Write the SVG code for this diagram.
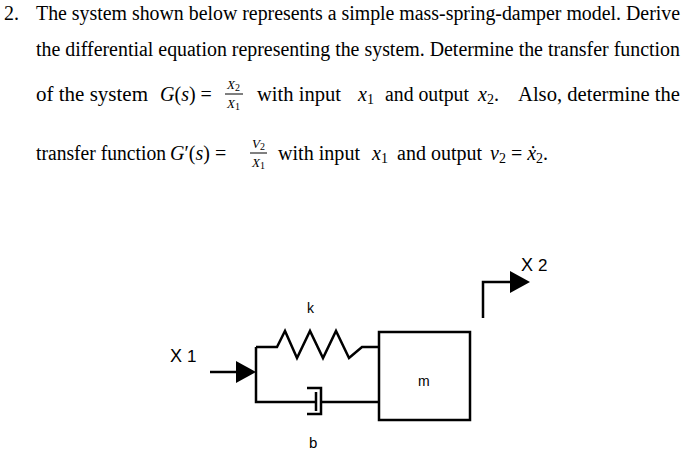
<svg xmlns="http://www.w3.org/2000/svg" width="684" height="454" viewBox="0 0 684 454">
<style>
.t{font-family:"Liberation Serif",serif;font-size:20px;fill:#000}
.i{font-style:italic}
.sb{font-size:14px;font-style:normal}
.f{font-family:"Liberation Serif",serif;font-size:13px;font-style:italic}
.d{font-family:"Liberation Sans",sans-serif;fill:#000}
.ln{fill:none;stroke:#000;stroke-width:2.5}
</style>
<rect width="684" height="454" fill="#fff"/>
<g id="text">
<text class="t" x="4" y="20">2.</text>
<text class="t" x="36" y="20" textLength="644" lengthAdjust="spacingAndGlyphs">The system shown below represents a simple mass-spring-damper model. Derive</text>
<text class="t" x="36" y="56" textLength="644" lengthAdjust="spacingAndGlyphs">the differential equation representing the system. Determine the transfer function</text>
<text class="t" x="36" y="101" textLength="112" lengthAdjust="spacingAndGlyphs">of the system</text>
<text class="t" x="160" y="101"><tspan class="i">G</tspan>(<tspan class="i">s</tspan>) =</text>
<text class="f" x="227" y="89">X<tspan font-size="10" font-style="normal" dy="2">2</tspan></text>
<line x1="225" y1="94" x2="243" y2="94" stroke="#000" stroke-width="1"/>
<text class="f" x="227" y="108">X<tspan font-size="10" font-style="normal" dy="2">1</tspan></text>
<text class="t" x="257" y="101" textLength="84" lengthAdjust="spacingAndGlyphs">with input</text>
<text class="t" x="358" y="101"><tspan class="i">x</tspan><tspan class="sb" dy="3">1</tspan></text>
<text class="t" x="385" y="101" textLength="84" lengthAdjust="spacingAndGlyphs">and output</text>
<text class="t" x="478" y="101"><tspan class="i">x</tspan><tspan class="sb" dy="3">2</tspan><tspan dy="-3">.</tspan></text>
<text class="t" x="518" y="101" textLength="162" lengthAdjust="spacingAndGlyphs">Also, determine the</text>
<text class="t" x="36" y="160" textLength="130" lengthAdjust="spacingAndGlyphs">transfer function</text>
<text class="t" x="170" y="160"><tspan class="i">G</tspan>′(<tspan class="i">s</tspan>) =</text>
<text class="f" x="252" y="148">V<tspan font-size="10" font-style="normal" dy="2">2</tspan></text>
<line x1="250" y1="153" x2="267" y2="153" stroke="#000" stroke-width="1"/>
<text class="f" x="252" y="167">X<tspan font-size="10" font-style="normal" dy="2">1</tspan></text>
<text class="t" x="278" y="160" textLength="82" lengthAdjust="spacingAndGlyphs">with input</text>
<text class="t" x="372" y="160"><tspan class="i">x</tspan><tspan class="sb" dy="3">1</tspan></text>
<text class="t" x="397" y="160" textLength="85" lengthAdjust="spacingAndGlyphs">and output</text>
<text class="t" x="490" y="160"><tspan class="i">v</tspan><tspan class="sb" dy="3">2</tspan><tspan dy="-3"> = </tspan><tspan class="i">ẋ</tspan><tspan class="sb" dy="3">2</tspan><tspan dy="-3">.</tspan></text>
</g>
<g id="mass"><rect class="ln" x="379" y="332" width="91" height="88"/><text class="d" x="418" y="386" font-size="14">m</text></g>
<g id="spring"><polyline class="ln" points="256,347 277,347 285,331 297,358 310,331 323,358 336,331 349,358 362,347 379,347"/><text class="d" x="307" y="313" font-size="14">k</text></g>
<g id="damper">
<polyline class="ln" points="256,347 256,402 317,402"/>
<line class="ln" x1="321" y1="402" x2="379" y2="402"/>
<polyline class="ln" points="307,388 321,388 321,414 307,414"/>
<line class="ln" x1="316" y1="392" x2="316" y2="411"/>
<text class="d" x="309" y="448" font-size="15">b</text>
</g>
<g id="connectors">
<line class="ln" x1="210" y1="372" x2="240" y2="372"/>
<polygon points="236,361 256,372 236,383" fill="#000"/>
<polyline class="ln" points="483,318 483,282 512,282"/>
<polygon points="510,271 530,282 510,293" fill="#000"/>
</g>
<g id="labels">
<text class="d" x="170" y="362" font-size="18">X <tspan font-size="17">1</tspan></text>
<text class="d" x="521" y="271" font-size="18">X <tspan font-size="17">2</tspan></text>
</g>
</svg>
